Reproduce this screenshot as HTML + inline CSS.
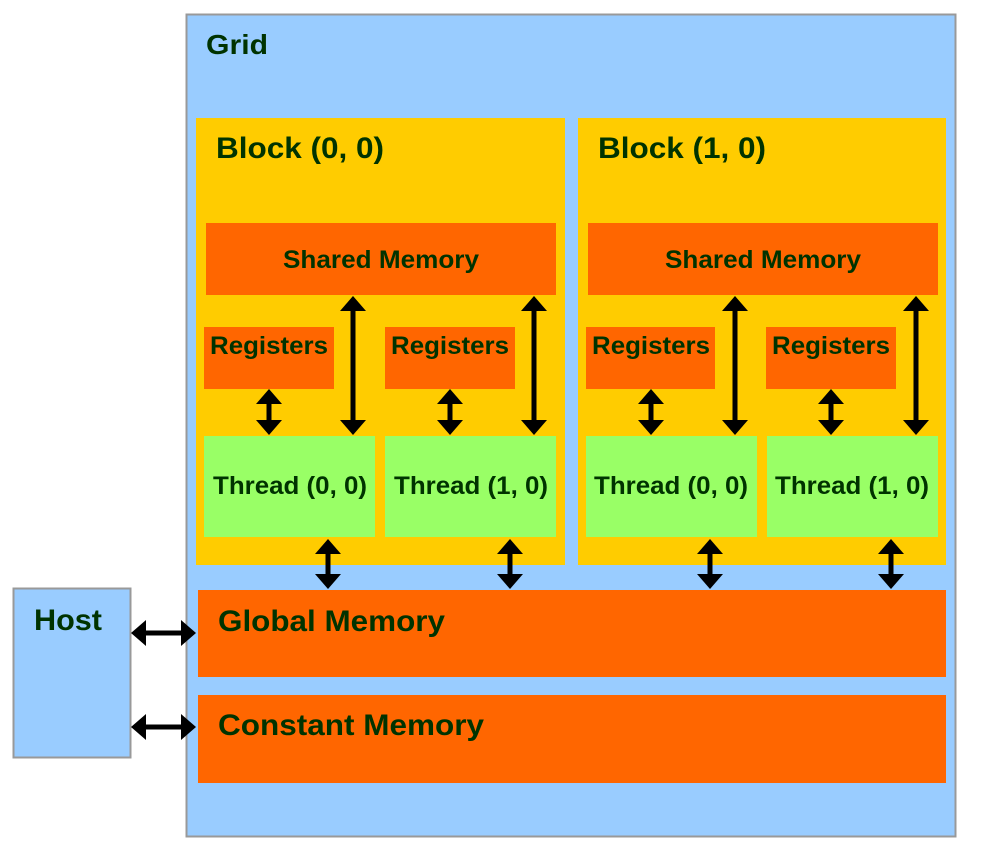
<!DOCTYPE html>
<html><head><style>body{margin:0;background:#fff}svg{display:block}text{font-family:"Liberation Sans",sans-serif;font-weight:bold;fill:#003300}</style></head>
<body>
<svg width="982" height="841" viewBox="0 0 982 841" xmlns="http://www.w3.org/2000/svg">
<rect x="186.5" y="14.5" width="769" height="822" fill="#99ccff" stroke="#999" stroke-width="2"/>
<text x="206" y="54" font-size="28" textLength="62" lengthAdjust="spacingAndGlyphs">Grid</text>
<rect x="196" y="118" width="369" height="447" fill="#ffcc00"/>
<rect x="578" y="118" width="368" height="447" fill="#ffcc00"/>
<text x="216" y="158" font-size="30" textLength="168" lengthAdjust="spacingAndGlyphs">Block (0, 0)</text>
<text x="598" y="158" font-size="30" textLength="168" lengthAdjust="spacingAndGlyphs">Block (1, 0)</text>
<rect x="206" y="223" width="350" height="72" fill="#ff6600"/>
<rect x="588" y="223" width="350" height="72" fill="#ff6600"/>
<text x="283" y="268" font-size="25" textLength="196" lengthAdjust="spacingAndGlyphs">Shared Memory</text>
<text x="665" y="268" font-size="25" textLength="196" lengthAdjust="spacingAndGlyphs">Shared Memory</text>
<g fill="#ff6600">
<rect x="204" y="327" width="130" height="62"/><rect x="385" y="327" width="130" height="62"/>
<rect x="586" y="327" width="129" height="62"/><rect x="766" y="327" width="130" height="62"/>
</g>
<g font-size="25">
<text x="210" y="354" textLength="118" lengthAdjust="spacingAndGlyphs">Registers</text>
<text x="391" y="354" textLength="118" lengthAdjust="spacingAndGlyphs">Registers</text>
<text x="592" y="354" textLength="118" lengthAdjust="spacingAndGlyphs">Registers</text>
<text x="772" y="354" textLength="118" lengthAdjust="spacingAndGlyphs">Registers</text>
</g>
<g fill="#99ff66">
<rect x="204" y="436" width="171" height="101"/><rect x="385" y="436" width="171" height="101"/>
<rect x="586" y="436" width="171" height="101"/><rect x="767" y="436" width="171" height="101"/>
</g>
<g font-size="25">
<text x="213" y="494" textLength="154" lengthAdjust="spacingAndGlyphs">Thread (0, 0)</text>
<text x="394" y="494" textLength="154" lengthAdjust="spacingAndGlyphs">Thread (1, 0)</text>
<text x="594" y="494" textLength="154" lengthAdjust="spacingAndGlyphs">Thread (0, 0)</text>
<text x="775" y="494" textLength="154" lengthAdjust="spacingAndGlyphs">Thread (1, 0)</text>
</g>
<rect x="198" y="590" width="748" height="87" fill="#ff6600"/>
<rect x="198" y="695" width="748" height="88" fill="#ff6600"/>
<text x="218" y="631" font-size="30" textLength="227" lengthAdjust="spacingAndGlyphs">Global Memory</text>
<text x="218" y="735" font-size="30" textLength="266" lengthAdjust="spacingAndGlyphs">Constant Memory</text>
<rect x="13.5" y="588.5" width="117" height="169" fill="#99ccff" stroke="#999" stroke-width="2"/>
<text x="34" y="630" font-size="30" textLength="68" lengthAdjust="spacingAndGlyphs">Host</text>
<g stroke="#000" stroke-width="5">
<line x1="269" y1="400" x2="269" y2="425"/><line x1="450" y1="400" x2="450" y2="425"/>
<line x1="651" y1="400" x2="651" y2="425"/><line x1="831" y1="400" x2="831" y2="425"/>
<line x1="353" y1="305" x2="353" y2="425"/><line x1="534" y1="305" x2="534" y2="425"/>
<line x1="735" y1="305" x2="735" y2="425"/><line x1="916" y1="305" x2="916" y2="425"/>
<line x1="328" y1="550" x2="328" y2="578"/><line x1="510" y1="550" x2="510" y2="578"/>
<line x1="710" y1="550" x2="710" y2="578"/><line x1="891" y1="550" x2="891" y2="578"/>
<line x1="143" y1="633" x2="185" y2="633"/><line x1="143" y1="727" x2="185" y2="727"/>
</g>
<g fill="#000">
<polygon points="269,389 256,404 282,404"/><polygon points="269,435 256,420 282,420"/>
<polygon points="450,389 437,404 463,404"/><polygon points="450,435 437,420 463,420"/>
<polygon points="651,389 638,404 664,404"/><polygon points="651,435 638,420 664,420"/>
<polygon points="831,389 818,404 844,404"/><polygon points="831,435 818,420 844,420"/>
<polygon points="353,296 340,311 366,311"/><polygon points="353,435 340,420 366,420"/>
<polygon points="534,296 521,311 547,311"/><polygon points="534,435 521,420 547,420"/>
<polygon points="735,296 722,311 748,311"/><polygon points="735,435 722,420 748,420"/>
<polygon points="916,296 903,311 929,311"/><polygon points="916,435 903,420 929,420"/>
<polygon points="328,539 315,554 341,554"/><polygon points="328,589 315,574 341,574"/>
<polygon points="510,539 497,554 523,554"/><polygon points="510,589 497,574 523,574"/>
<polygon points="710,539 697,554 723,554"/><polygon points="710,589 697,574 723,574"/>
<polygon points="891,539 878,554 904,554"/><polygon points="891,589 878,574 904,574"/>
<polygon points="131,633 146,620 146,646"/><polygon points="196,633 181,620 181,646"/>
<polygon points="131,727 146,714 146,740"/><polygon points="196,727 181,714 181,740"/>
</g>
</svg>
</body></html>
